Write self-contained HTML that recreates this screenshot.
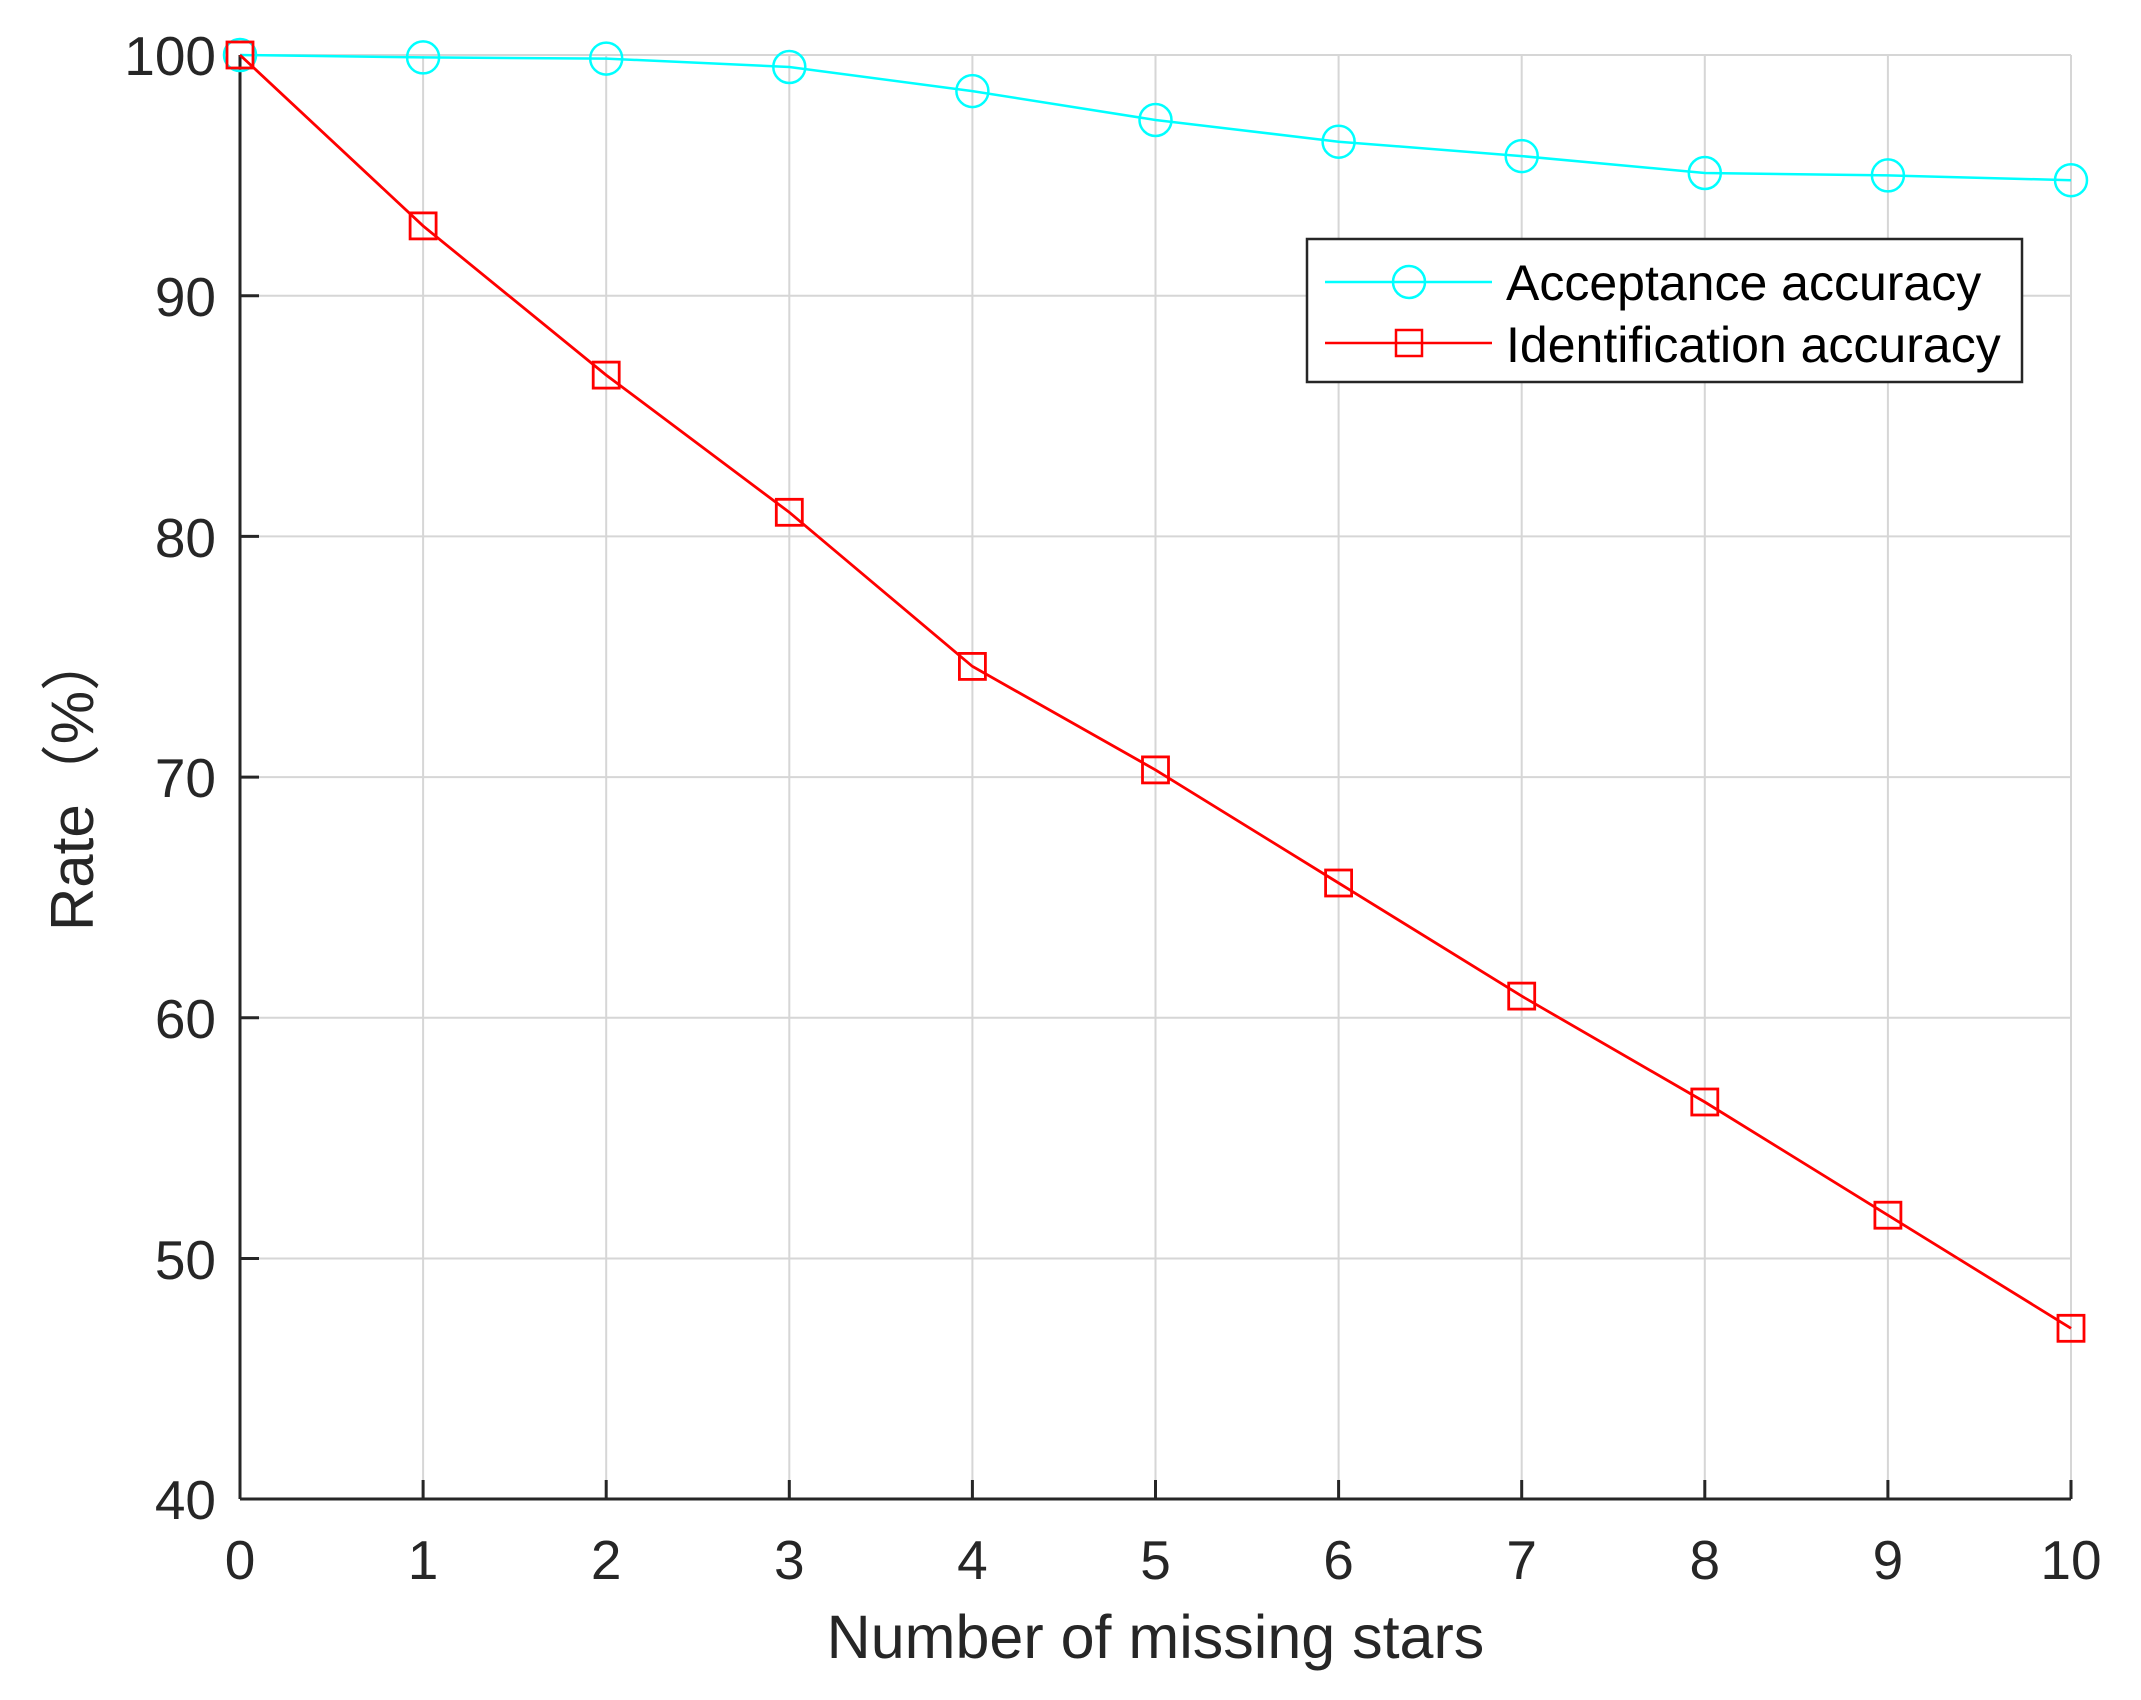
<!DOCTYPE html>
<html><head><meta charset="utf-8"><style>html,body{margin:0;padding:0;background:#fff}svg{display:block}</style></head>
<body>
<svg width="2141" height="1700" viewBox="0 0 2141 1700" xmlns="http://www.w3.org/2000/svg" font-family="Liberation Sans, Noto Sans CJK SC, sans-serif">
<rect width="2141" height="1700" fill="#fff"/>
<g stroke="#d6d6d6" stroke-width="2">
<line x1="423.1" y1="55" x2="423.1" y2="1499"/><line x1="606.2" y1="55" x2="606.2" y2="1499"/><line x1="789.3" y1="55" x2="789.3" y2="1499"/><line x1="972.4" y1="55" x2="972.4" y2="1499"/><line x1="1155.5" y1="55" x2="1155.5" y2="1499"/><line x1="1338.6" y1="55" x2="1338.6" y2="1499"/><line x1="1521.7" y1="55" x2="1521.7" y2="1499"/><line x1="1704.8" y1="55" x2="1704.8" y2="1499"/><line x1="1887.9" y1="55" x2="1887.9" y2="1499"/><line x1="2071" y1="55" x2="2071" y2="1499"/>
<line x1="240" y1="55" x2="2071" y2="55"/><line x1="240" y1="295.7" x2="2071" y2="295.7"/><line x1="240" y1="536.4" x2="2071" y2="536.4"/><line x1="240" y1="777.1" x2="2071" y2="777.1"/><line x1="240" y1="1017.8" x2="2071" y2="1017.8"/><line x1="240" y1="1258.5" x2="2071" y2="1258.5"/>
</g>
<g stroke="#262626" stroke-width="3" fill="none">
<line x1="240" y1="55" x2="240" y2="1499"/><line x1="240" y1="1499" x2="2071" y2="1499"/>
<path d="M240 295.7h19M240 536.4h19M240 777.1h19M240 1017.8h19M240 1258.5h19"/>
<path d="M423.1 1499v-19M606.2 1499v-19M789.3 1499v-19M972.4 1499v-19M1155.5 1499v-19M1338.6 1499v-19M1521.7 1499v-19M1704.8 1499v-19M1887.9 1499v-19M2071 1499v-19"/>
</g>
<g font-size="55" fill="#262626">
<g text-anchor="end"><text x="216" y="75">100</text><text x="216" y="316">90</text><text x="216" y="557">80</text><text x="216" y="797">70</text><text x="216" y="1038">60</text><text x="216" y="1279">50</text><text x="216" y="1519">40</text></g>
<g text-anchor="middle"><text x="240" y="1579">0</text><text x="423.1" y="1579">1</text><text x="606.2" y="1579">2</text><text x="789.3" y="1579">3</text><text x="972.4" y="1579">4</text><text x="1155.5" y="1579">5</text><text x="1338.6" y="1579">6</text><text x="1521.7" y="1579">7</text><text x="1704.8" y="1579">8</text><text x="1887.9" y="1579">9</text><text x="2071" y="1579">10</text>
<text x="1155.5" y="1658" font-size="61">Number of missing stars</text>
<text transform="translate(93,781) rotate(-90)" font-size="60">Rate（%）</text></g>
</g>
<g fill="none" stroke="#00ffff" stroke-width="2.5">
<polyline points="240,55 423.1,57.4 606.2,58.6 789.3,67 972.4,91.1 1155.5,120 1338.6,141.7 1521.7,156.1 1704.8,173 1887.9,175.4 2071,180.2"/>
<circle cx="240" cy="55" r="16"/><circle cx="423.1" cy="57.4" r="16"/><circle cx="606.2" cy="58.6" r="16"/><circle cx="789.3" cy="67" r="16"/><circle cx="972.4" cy="91.1" r="16"/><circle cx="1155.5" cy="120" r="16"/><circle cx="1338.6" cy="141.7" r="16"/><circle cx="1521.7" cy="156.1" r="16"/><circle cx="1704.8" cy="173" r="16"/><circle cx="1887.9" cy="175.4" r="16"/><circle cx="2071" cy="180.2" r="16"/>
</g>
<g fill="none" stroke="#ff0000" stroke-width="2.8">
<polyline points="240,55 423.1,225.9 606.2,375.1 789.3,512.3 972.4,666.4 1155.5,769.9 1338.6,883 1521.7,996.1 1704.8,1102 1887.9,1215.2 2071,1328.3"/>
<g transform="translate(-13,-13)">
<rect x="240" y="55" width="26" height="26"/><rect x="423.1" y="225.9" width="26" height="26"/><rect x="606.2" y="375.1" width="26" height="26"/><rect x="789.3" y="512.3" width="26" height="26"/><rect x="972.4" y="666.4" width="26" height="26"/><rect x="1155.5" y="769.9" width="26" height="26"/><rect x="1338.6" y="883" width="26" height="26"/><rect x="1521.7" y="996.1" width="26" height="26"/><rect x="1704.8" y="1102" width="26" height="26"/><rect x="1887.9" y="1215.2" width="26" height="26"/><rect x="2071" y="1328.3" width="26" height="26"/>
</g></g>
<rect x="1307" y="239" width="715" height="143" fill="#fff" stroke="#262626" stroke-width="2.5"/>
<line x1="1325" y1="282" x2="1492" y2="282" stroke="#00ffff" stroke-width="2.5"/>
<circle cx="1409" cy="282" r="16" fill="none" stroke="#00ffff" stroke-width="2.5"/>
<line x1="1325" y1="343" x2="1492" y2="343" stroke="#ff0000" stroke-width="2.5"/>
<rect x="1396" y="330" width="26" height="26" fill="none" stroke="#ff0000" stroke-width="2.5"/>
<g font-size="50" fill="#000"><text x="1506" y="300">Acceptance accuracy</text><text x="1506" y="362">Identification accuracy</text></g>
</svg>
</body></html>
